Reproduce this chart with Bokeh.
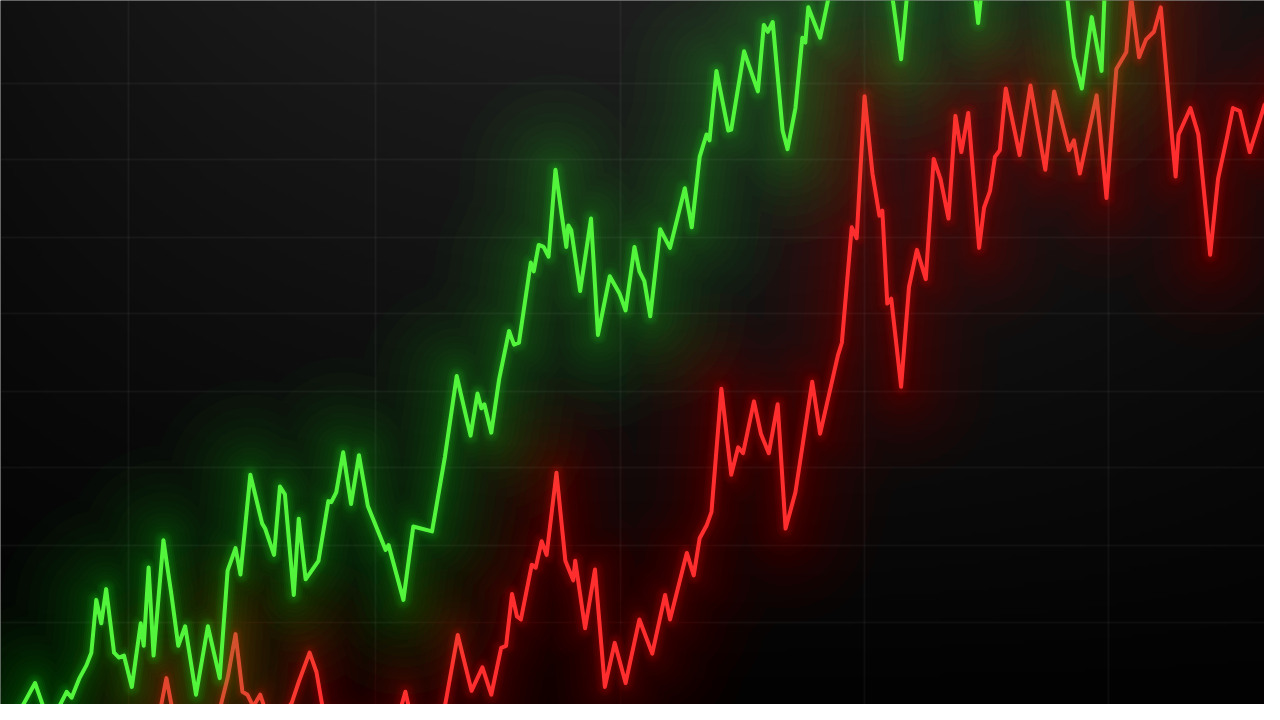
import numpy as np
from bokeh.plotting import figure
from bokeh.models import Range1d, Grid, FixedTicker
from bokeh.embed import file_html
from bokeh.resources import INLINE

# ---- data (time index, price level) ----
green_x = [15, 35, 46, 58, 67, 72, 80, 87, 92, 97, 102, 107, 115, 120, 125, 133, 142, 145, 150, 155,
           165, 173, 180, 187, 198, 210, 222, 230, 238, 243, 253, 265, 268, 277, 283, 288, 297, 302, 309, 322,
           332, 335, 340, 347, 355, 363, 372, 390, 393, 408, 418, 437, 443, 450, 462, 476, 483, 487, 490, 497,
           505, 515, 520, 525, 537, 540, 545, 550, 555, 562, 568, 573, 575, 578, 587, 598, 605, 617, 627, 633,
           642, 647, 652, 658, 668, 678, 693, 700, 708, 715, 718, 725, 737, 740, 753, 767, 773, 777, 782, 792,
           797, 805, 812, 815, 818, 830, 840, 850, 870, 890, 903, 912, 918, 935, 960, 975, 987, 990, 993, 1010,
           1040, 1065, 1080, 1087, 1095, 1105, 1115, 1118, 1130, 1160]
green_y = [-15, 22, -10, -5, 13, 7, 27, 40, 53, 107, 83, 118, 53, 48, 50, 18, 83, 60, 140, 50,
           168, 113, 60, 80, 10, 80, 27, 137, 160, 133, 235, 185, 180, 153, 223, 215, 112, 190, 128, 147,
           208, 207, 217, 258, 205, 255, 203, 158, 163, 107, 182, 177, 212, 253, 336, 275, 318, 303, 307, 278,
           333, 382, 368, 370, 452, 443, 470, 468, 458, 547, 503, 468, 490, 485, 423, 497, 378, 438, 420, 403,
           468, 443, 433, 397, 486, 467, 528, 488, 560, 583, 577, 648, 587, 588, 668, 627, 695, 688, 698, 587,
           568, 610, 682, 677, 713, 682, 730, 760, 780, 760, 725, 660, 725, 770, 790, 760, 725, 697, 725, 760,
           780, 760, 725, 662, 630, 703, 648, 725, 760, 800]

red_x = [160, 168, 174, 185, 205, 222, 230, 238, 245, 250, 256, 263, 268, 280, 295, 302, 313, 320, 326, 350,
         380, 405, 410, 414, 430, 450, 463, 477, 488, 497, 507, 512, 518, 523, 527, 538, 542, 548, 553, 563,
         572, 580, 582, 592, 602, 612, 622, 633, 647, 660, 673, 678, 695, 702, 708, 715, 720, 730, 740, 747,
         752, 763, 770, 778, 787, 795, 805, 822, 830, 848, 852, 862, 867, 875, 883, 890, 893, 898, 902, 912,
         920, 928, 937, 945, 952, 960, 967, 973, 980, 991, 996, 1002, 1007, 1012, 1018, 1032, 1043, 1058, 1067, 1082,
         1087, 1093, 1110, 1120, 1130, 1140, 1145, 1153, 1160, 1168, 1175, 1187, 1190, 1193, 1205, 1213, 1225, 1233, 1242, 1248,
         1255, 1265, 1280, 1290]
red_y = [-15, 27, -5, -20, -20, -5, 27, 72, 13, 10, -2, 10, -5, -20, 2, 23, 53, 33, -2, -25,
         -25, -5, 13, -5, -20, -2, 71, 14, 38, 10, 58, 60, 113, 90, 87, 143, 140, 167, 153, 237,
         147, 127, 147, 78, 138, 18, 63, 22, 87, 52, 112, 87, 155, 132, 170, 183, 197, 323, 235, 263,
         257, 310, 277, 257, 307, 180, 217, 330, 277, 357, 370, 488, 477, 622, 543, 500, 505, 410, 415, 325,
         427, 465, 435, 558, 537, 497, 602, 565, 605, 467, 508, 525, 560, 567, 630, 562, 633, 547, 627, 567,
         577, 543, 623, 518, 650, 667, 723, 662, 680, 688, 713, 573, 540, 583, 610, 583, 460, 538, 580, 610,
         607, 565, 613, 625]

grid_x = [130, 380, 628, 875, 1122]
grid_y = [84, 163, 242, 320, 400, 478, 557, 635]

X_MAX, Y_MAX = 1280, 720

p = figure(width=1264, height=704, x_range=Range1d(0, X_MAX), y_range=Range1d(0, Y_MAX),
           x_axis_type=None, y_axis_type=None, toolbar_location=None, output_backend="svg",
           min_border=0, outline_line_color=None,
           background_fill_color="#080808", border_fill_color="#080808")

# background gradient (lighter toward the top centre)
H, W = 180, 320
t = np.linspace(0, 1, H)[:, None]          # 0 bottom, 1 top
s = np.linspace(-1, 1, W)[None, :]
lum = 2 + 28 * t ** 1.0 * (1 - 0.45 * (s - 0.05) ** 2)
lum = np.clip(lum, 0, 255).astype(np.uint32)
img = (255 << 24) | (lum << 16) | (lum << 8) | lum
p.image_rgba(image=[img.astype(np.uint32)], x=0, y=0, dw=X_MAX, dh=Y_MAX, level="image")

for dim, ticks in ((0, grid_x), (1, grid_y)):
    p.add_layout(Grid(dimension=dim, ticker=FixedTicker(ticks=ticks),
                      grid_line_color="white", grid_line_alpha=0.045, grid_line_width=2))

GLOW_W = [190, 160, 135, 114, 96, 80, 67, 55, 45, 36, 29, 23, 18, 14, 10, 7]

def glow_line(xs, ys, glow, core):
    for w in GLOW_W:
        a = 0.021 if w > 20 else 0.055
        p.line(xs, ys, line_color=glow, line_width=w, line_alpha=a, line_join="round", line_cap="round")
    p.line(xs, ys, line_color=core, line_width=4, line_join="round", line_cap="round")

glow_line(red_x, red_y, "#ff1414", "#ff2e2e")
glow_line(green_x, green_y, "#1eff1e", "#52f53c")

open("out.html", "w").write(file_html(p, INLINE))
